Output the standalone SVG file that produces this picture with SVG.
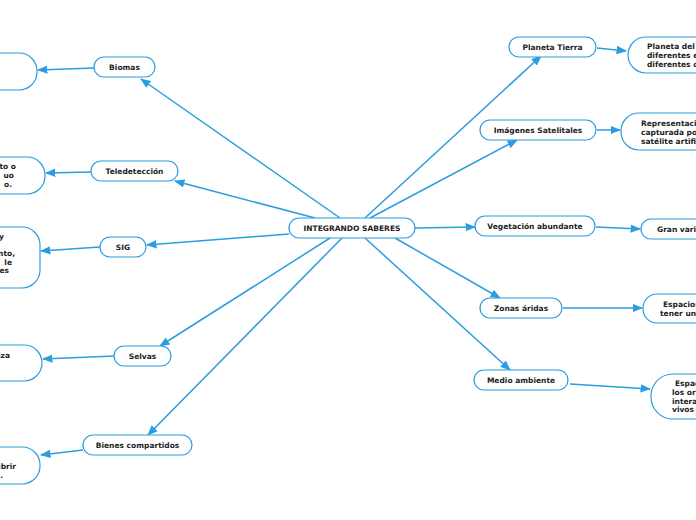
<svg xmlns="http://www.w3.org/2000/svg" width="696" height="520" viewBox="0 0 696 520">
<defs>
<style>
.n{fill:#fff;stroke:#2a9de0;stroke-width:1.2}
.t{font-family:"DejaVu Sans",sans-serif;font-weight:bold;font-size:7.5px;fill:#222}
.c{stroke:#2a9de0;stroke-width:1.5;fill:none;marker-end:url(#a)}
</style>
<marker id="a" viewBox="0 0 10 10" refX="9" refY="5" markerWidth="7" markerHeight="7" orient="auto"><path d="M0,1L10,5L0,9z" fill="#2a9de0"/></marker>
</defs>
<rect width="696" height="520" fill="#fff"/>
<g id="connectors">
<path class="c" d="M340,218L141,79"/>
<path class="c" d="M315,218L175,181"/>
<path class="c" d="M289,234L147,245"/>
<path class="c" d="M330,238L160,346"/>
<path class="c" d="M342,238L148,435"/>
<path class="c" d="M94,68L38,70"/>
<path class="c" d="M91,172L46,173"/>
<path class="c" d="M100,247L41,251"/>
<path class="c" d="M114,356L43,359"/>
<path class="c" d="M83,450L41,455"/>
<path class="c" d="M365,218L541,56"/>
<path class="c" d="M370,218L517,140"/>
<path class="c" d="M415,228L475,227"/>
<path class="c" d="M395,238L500,298"/>
<path class="c" d="M365,238L510,370"/>
<path class="c" d="M597,48L626,51"/>
<path class="c" d="M597,130L620,130"/>
<path class="c" d="M596,227L640,229"/>
<path class="c" d="M563,308L642,308"/>
<path class="c" d="M570,384L650,389"/>
</g>
<g id="center"><rect class="n" x="289" y="218" width="126" height="20" rx="10"/><text class="t" x="352" y="231" text-anchor="middle">INTEGRANDO SABERES</text></g>
<g id="biomas"><rect class="n" x="94" y="57" width="61" height="20" rx="10"/><text class="t" x="124.5" y="70" text-anchor="middle">Biomas</text></g>
<g id="biomas-leaf"><rect class="n" x="-40" y="53" width="77" height="37" rx="18"/></g>
<g id="tele"><rect class="n" x="91" y="161" width="87" height="20" rx="10"/><text class="t" x="134.5" y="174" text-anchor="middle">Teledetección</text></g>
<g id="tele-leaf"><rect class="n" x="-40" y="157" width="85" height="37" rx="18"/><text class="t" x="16" y="169" text-anchor="end">to o</text><text class="t" x="14" y="178" text-anchor="end">uo</text><text class="t" x="12" y="187" text-anchor="end">o.</text></g>
<g id="sig"><rect class="n" x="100" y="237" width="46" height="20" rx="10"/><text class="t" x="123" y="250" text-anchor="middle">SIG</text></g>
<g id="sig-leaf"><rect class="n" x="-40" y="227" width="80" height="61" rx="18"/><text class="t" x="4" y="239" text-anchor="end">y</text><text class="t" x="15" y="256" text-anchor="end">nto,</text><text class="t" x="12" y="265" text-anchor="end">le</text><text class="t" x="9" y="273" text-anchor="end">es</text></g>
<g id="selvas"><rect class="n" x="114" y="346" width="57" height="20" rx="10"/><text class="t" x="142.5" y="359" text-anchor="middle">Selvas</text></g>
<g id="selvas-leaf"><rect class="n" x="-40" y="345" width="82" height="36" rx="18"/><text class="t" x="10" y="358" text-anchor="end">iza</text></g>
<g id="bienes"><rect class="n" x="83" y="435" width="109" height="20" rx="10"/><text class="t" x="137.5" y="448" text-anchor="middle">Bienes compartidos</text></g>
<g id="bienes-leaf"><rect class="n" x="-40" y="447" width="80" height="37" rx="18"/><text class="t" x="16" y="469" text-anchor="end">ubrir</text><text class="t" x="3" y="478" text-anchor="end">.</text></g>
<g id="planeta"><rect class="n" x="509" y="37" width="87" height="20" rx="10"/><text class="t" x="552.5" y="50" text-anchor="middle">Planeta Tierra</text></g>
<g id="planeta-leaf"><rect class="n" x="628" y="37" width="110" height="36" rx="18"/><text class="t" x="647" y="49">Planeta del s</text><text class="t" x="647" y="58">diferentes es</text><text class="t" x="647" y="67">diferentes cl</text></g>
<g id="imagenes"><rect class="n" x="480" y="120" width="116" height="20" rx="10"/><text class="t" x="538" y="133" text-anchor="middle">Imágenes Satelitales</text></g>
<g id="imagenes-leaf"><rect class="n" x="621" y="113" width="110" height="37" rx="18"/><text class="t" x="641" y="126">Representació</text><text class="t" x="641" y="135">capturada por</text><text class="t" x="641" y="144">satélite artific</text></g>
<g id="vegetacion"><rect class="n" x="475" y="216" width="120" height="20" rx="10"/><text class="t" x="535" y="229" text-anchor="middle">Vegetación abundante</text></g>
<g id="vegetacion-leaf"><rect class="n" x="641" y="219" width="90" height="20" rx="10"/><text class="t" x="657" y="232">Gran varie</text></g>
<g id="zonas"><rect class="n" x="480" y="298" width="82" height="20" rx="10"/><text class="t" x="521" y="311" text-anchor="middle">Zonas áridas</text></g>
<g id="zonas-leaf"><rect class="n" x="643" y="294" width="90" height="29" rx="14"/><text class="t" x="663" y="307">Espacios</text><text class="t" x="660" y="316">tener un</text></g>
<g id="medio"><rect class="n" x="474" y="370" width="94" height="20" rx="10"/><text class="t" x="521" y="383" text-anchor="middle">Medio ambiente</text></g>
<g id="medio-leaf"><rect class="n" x="651" y="374" width="90" height="45" rx="22"/><text class="t" x="675" y="386">Espac</text><text class="t" x="672" y="395">los or</text><text class="t" x="672" y="404">intera</text><text class="t" x="672" y="412">vivos</text></g>
</svg>
